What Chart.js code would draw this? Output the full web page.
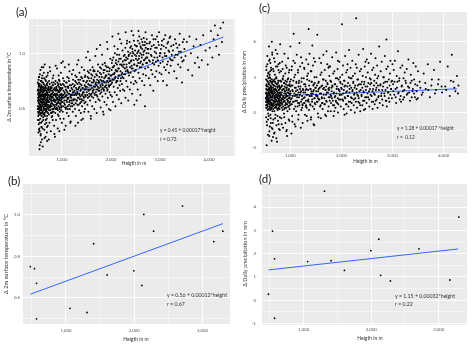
<!DOCTYPE html>
<html>
<head>
<meta charset="utf-8">
<script src="https://cdn.jsdelivr.net/npm/chart.js@4.4.1/dist/chart.umd.min.js"></script>
<style>
  html,body{margin:0;padding:0;background:#fff;overflow:hidden;}
  #wrap{position:relative;width:474px;height:345px;}
  canvas{position:absolute;}
</style>
</head>
<body>
<div id="wrap">
  <canvas id="pa" width="237" height="172" style="left:0;top:0"></canvas>
  <canvas id="pc" width="237" height="172" style="left:237px;top:0"></canvas>
  <canvas id="pb" width="237" height="173" style="left:0;top:172px"></canvas>
  <canvas id="pd" width="237" height="173" style="left:237px;top:172px"></canvas>
</div>
<script>
'use strict';

const FONT="Lato,'Open Sans',sans-serif";
const PANEL_BG='#EBEBEB', INK='#333', TICK_INK='#555', FIT='#3366FF';

// ── (a) all grid cells: height [m] vs Δ 2m temperature [°C] ─────────────────
const tempPoints=[
  [508,.62],[512,.71],[515,.55],[518,.78],[521,.66],[524,.49],[527,.74],[530,.69],[533,.58],[536,.83],[539,.64],[542,.72],[545,.44],[548,.61],[551,.76],[554,.68],[557,.53],[560,.88],[563,.7],[566,.63],[569,.36],[572,.75],[575,.59],[578,.67],[581,.8],[584,.47],[587,.73],[590,.65],[593,.57],[596,.79],[599,.7],
  [510,.68],[516,.6],[522,.81],[528,.52],[534,.71],[540,.31],[546,.66],[552,.59],[558,.73],[564,.41],[570,.69],[576,.77],[582,.62],[588,.9],[594,.51],[600,.67],
  [513,.74],[519,.57],[525,.64],[531,.77],[537,.46],[543,.61],[549,.85],[555,.63],[561,.56],[567,.72],[573,.5],[579,.7],[585,.6],[591,.38],[597,.74],
  [506,.79],[520,.65],[538,.58],[556,.7],[574,.65],[592,.82],[517,.43],[547,.34],[583,.55],
  [504,.6],[507,.73],[511,.66],[514,.58],[519,.7],[523,.76],[526,.61],[529,.67],[532,.72],[535,.56],[538,.69],[541,.63],[544,.78],[547,.71],[550,.6],[553,.66],[556,.74],[559,.62],[562,.68],[565,.57],[568,.75],[571,.65],[574,.7],[577,.61],[580,.73],[583,.67],[586,.59],[589,.76],[592,.64],[595,.69],
  [598,.62],[601,.71],[604,.58],[607,.66],[610,.74],[613,.63],[616,.69],[619,.56],[622,.72],[625,.65],[628,.78],[631,.6],[634,.73],[637,.67],[640,.62],[643,.7],[646,.57],[649,.75],[652,.64],[655,.68],[658,.71],[661,.6],[664,.76],[667,.66],[670,.63],[673,.7],[676,.59],[679,.73],[682,.67],[685,.62],
  [688,.72],[691,.65],[694,.58],[697,.77],[700,.68],[703,.61],[706,.74],[709,.66],[712,.7],[715,.63],[718,.75],[509,.52],[527,.83],[545,.5],[563,.8],[581,.47],[599,.84],[617,.54],[635,.82],[653,.49],[671,.8],[689,.53],[707,.79],[532,.45],[566,.42],[604,.46],[642,.39],[668,.52],[694,.47],[712,.86],
  [603,.64],[606,.72],[609,.57],[612,.79],[615,.67],[618,.52],[621,.75],[624,.61],[627,.7],[630,.86],[633,.59],[636,.68],[639,.45],[642,.73],[645,.63],[648,.77],[651,.55],[654,.69],[657,.62],[660,.81],[663,.66],[666,.4],[669,.71],[672,.58],[675,.75],[678,.64],[681,.5],[684,.7],[687,.6],[690,.78],[693,.67],[696,.55],[699,.72],[702,.63],[705,.84],[708,.69],[711,.48],[714,.74],[717,.6],[720,.66],
  [607,.33],[619,.9],[631,.65],[643,.56],[655,.74],[667,.62],[679,.83],[691,.43],[703,.71],[715,.57],[611,.76],[635,.7],[659,.6],[683,.65],[697,.37],[647,.92],
  [724,.65],[728,.73],[732,.56],[736,.8],[740,.68],[744,.5],[748,.74],[752,.62],[756,.7],[760,.87],[764,.59],[768,.67],[772,.44],[776,.76],[780,.64],[784,.71],[788,.54],[792,.79],[796,.66],[800,.6],[804,.73],[808,.69],[812,.52],[816,.77],[820,.63],[824,.84],[828,.58],[832,.7],[836,.66],[840,.48],[844,.74],[848,.61],
  [730,.38],[750,.9],[770,.62],[790,.57],[810,.82],[830,.74],[846,.42],[738,.61],[762,.75],[786,.68],[802,.55],
  [722,.7],[727,.62],[731,.76],[735,.65],[739,.59],[743,.72],[747,.67],[751,.78],[755,.61],[759,.69],[763,.74],[767,.63],[771,.7],[775,.57],[779,.73],[783,.66],[787,.62],[791,.75],[795,.69],[799,.64],[803,.71],[807,.58],[811,.77],[815,.68],[819,.72],[823,.6],[827,.66],[831,.79],[835,.63],[839,.7],
  [843,.67],[847,.75],[851,.62],[855,.71],[859,.65],[862,.78],[866,.6],[870,.73],[874,.66],[878,.7],[882,.63],[886,.76],[890,.68],[894,.61],[898,.74],[902,.67],[906,.79],[910,.64],[914,.7],[918,.59],[922,.73],[926,.66],[930,.62],[934,.76],[938,.69],[942,.64],[946,.72],[950,.8],[954,.6],[958,.75],
  [962,.68],[966,.73],[970,.63],[974,.7],[978,.66],[982,.77],[986,.61],[990,.74],[994,.69],[997,.65],
  [853,.66],[858,.74],[863,.57],[868,.8],[873,.69],[878,.52],[883,.75],[888,.63],[893,.71],[898,.89],[903,.6],[908,.68],[913,.46],[918,.77],[923,.65],[928,.72],[933,.55],[938,.81],[943,.67],[948,.61],[953,.74],[958,.7],[963,.53],[968,.78],[973,.64],[978,.86],[983,.59],[988,.71],[993,.67],[998,.5],
  [856,.4],[871,.91],[886,.6],[901,.73],[916,.56],[931,.84],[946,.44],[961,.66],[976,.75],[991,.62],[866,.7],[896,.64],[926,.78],[956,.58],[986,.93],
  [1004,.68],[1010,.75],[1016,.58],[1022,.82],[1028,.7],[1034,.53],[1040,.77],[1046,.64],[1052,.72],[1058,.9],[1064,.61],[1070,.69],[1076,.48],[1082,.79],[1088,.66],[1094,.73],[1100,.57],[1106,.83],[1112,.68],[1118,.62],[1124,.76],[1130,.71],[1136,.55],[1142,.8],[1148,.65],[1154,.87],[1160,.6],[1166,.73],[1172,.69],[1178,.51],[1184,.77],[1190,.64],[1196,.7],[1202,.85],[1208,.62],[1214,.74],[1220,.58],[1226,.81],[1232,.67],[1238,.72],[1244,.63],
  [1019,.94],[1049,.45],[1079,.6],[1109,.76],[1139,.92],[1169,.5],[1199,.66],[1229,.88],
  [1007,.7],[1013,.65],[1019,.78],[1025,.62],[1031,.73],[1037,.68],[1043,.8],[1049,.66],[1055,.71],[1061,.63],[1067,.76],[1073,.69],[1079,.74],[1085,.61],[1091,.7],[1097,.79],[1103,.65],[1109,.72],[1115,.67],[1121,.6],[1127,.75],[1133,.68],[1139,.82],[1145,.63],[1151,.71],[1157,.77],[1163,.66],[1169,.73],[1175,.62],[1181,.7],
  [1187,.68],[1193,.75],[1205,.7],[1211,.64],[1217,.78],[1223,.72],[1235,.66],[1241,.76],[1247,.7],
  [1254,.7],[1260,.77],[1266,.6],[1272,.84],[1278,.71],[1284,.55],[1290,.79],[1296,.66],[1302,.74],[1308,.92],[1314,.63],[1320,.71],[1326,.5],[1332,.81],[1338,.68],[1344,.75],[1350,.59],[1356,.86],[1362,.7],[1368,.64],[1374,.78],[1380,.73],[1386,.57],[1392,.83],[1398,.67],[1404,.9],[1410,.62],[1416,.75],[1422,.71],[1428,.53],[1434,.8],[1440,.66],[1446,.72],[1452,.88],[1458,.64],[1464,.77],[1470,.6],[1476,.84],[1482,.69],[1488,.74],[1494,.97],
  [1275,.48],[1335,.95],[1395,.52],[1455,.58],
  [1257,.73],[1263,.67],[1269,.8],[1281,.64],[1287,.75],[1293,.7],[1299,.83],[1305,.66],[1311,.72],[1317,.78],[1323,.68],[1329,.74],[1341,.63],[1347,.79],[1353,.71],[1359,.76],[1365,.67],[1371,.81],[1377,.69],[1383,.74],[1389,.65],[1401,.77],[1407,.7],[1413,.82],[1419,.66],[1425,.75],[1431,.72],[1437,.69],[1443,.8],[1449,.68],[1461,.74],[1467,.83],[1473,.7],[1479,.76],[1485,.65],[1491,.79],
  [1505,.72],[1512,.8],[1519,.63],[1526,.87],[1533,.74],[1540,.58],[1547,.82],[1554,.69],[1561,.77],[1568,.95],[1575,.66],[1582,.74],[1589,.55],[1596,.85],[1603,.71],[1610,.79],[1617,.62],[1624,.9],[1631,.73],[1638,.68],[1645,.81],[1652,.76],[1659,.6],[1666,.87],[1673,.7],[1680,.98],[1687,.65],[1694,.79],[1701,.74],[1708,.57],[1715,.84],[1722,.69],[1729,.76],[1736,.92],[1743,.67],[1750,.8],
  [1530,1.01],[1590,.53],[1650,.88],[1710,1.03],
  [1508,.76],[1515,.7],[1522,.83],[1529,.68],[1536,.78],[1543,.73],[1550,.86],[1557,.71],[1564,.8],[1571,.74],[1578,.88],[1585,.7],[1592,.77],[1599,.82],[1606,.69],[1613,.75],[1620,.84],[1627,.72],[1634,.79],[1641,.87],[1648,.74],[1655,.8],[1662,.71],[1669,.83],[1676,.76],
  [1683,.78],[1690,.72],[1697,.85],[1704,.77],[1711,.7],[1718,.81],[1725,.74],[1732,.87],[1739,.79],[1746,.73],
  [1755,.75],[1762,.83],[1769,.66],[1776,.9],[1783,.77],[1790,.61],[1797,.85],[1804,.72],[1811,.8],[1818,.99],[1825,.69],[1832,.77],[1839,.58],[1846,.88],[1853,.74],[1860,.82],[1867,.65],[1874,.93],[1881,.76],[1888,.71],[1895,.84],[1902,.79],[1909,.63],[1916,.9],[1923,.73],[1930,1.03],[1937,.68],[1944,.82],[1951,.77],[1958,.6],[1965,.87],[1972,.72],[1979,.8],[1986,.96],[1993,.7],[2000,.84],
  [1780,1.06],[1850,.56],[1920,1.08],[1990,.59],
  [1758,.79],[1765,.73],[1772,.86],[1779,.71],[1786,.81],[1793,.76],[1800,.89],[1807,.74],[1814,.83],[1821,.78],[1828,.92],[1835,.75],[1842,.8],[1849,.86],[1856,.73],[1863,.79],[1870,.88],[1877,.76],[1884,.83],[1891,.91],[1898,.77],[1905,.84],[1912,.75],[1919,.87],[1926,.8],[1933,.74],[1940,.9],[1947,.79],[1954,.85],[1961,.76],
  [1968,.82],[1975,.89],[1982,.77],[1989,.84],[1996,.8],
  [2006,.78],[2013,.88],[2020,.69],[2027,.95],[2034,.81],[2041,.65],[2048,.9],[2055,.76],[2062,.85],[2069,1.05],[2076,.72],[2083,.82],[2090,.62],[2097,.93],[2104,.79],[2111,.87],[2118,.7],[2125,.99],[2132,.8],[2139,.75],[2146,.89],[2153,.84],[2160,.67],[2167,.96],[2174,.77],[2181,1.1],[2188,.73],[2195,.87],[2202,.82],[2209,.64],[2216,.92],[2223,.78],[2230,.86],[2237,1.02],[2244,.74],
  [2030,1.12],[2150,1.14],[2210,1.07],
  [2009,.84],[2017,.93],[2025,.79],[2033,.9],[2041,.85],[2049,.97],[2057,.81],[2065,.91],[2073,.86],[2081,1.0],[2089,.83],[2097,.88],[2105,.95],[2113,.8],[2121,.92],[2129,.87],[2137,1.03],[2145,.82],[2153,.94],[2161,.89],[2169,.99],[2177,.84],[2185,.92],
  [2193,.8],[2201,.96],[2217,.85],[2225,.91],[2233,.83],[2241,.94],
  [2256,.82],[2264,.92],[2272,.73],[2280,.99],[2288,.85],[2296,.68],[2304,.95],[2312,.8],[2320,.9],[2328,1.09],[2336,.76],[2344,.87],[2352,.66],[2360,.98],[2368,.84],[2376,.93],[2384,.74],[2392,1.04],[2400,.86],[2408,.79],[2416,.95],[2424,.89],[2432,.71],[2440,1.01],[2448,.83],[2456,1.13],[2464,.78],[2472,.92],[2480,.87],[2488,1.06],[2496,.8],
  [2300,1.15],[2420,1.16],[2476,.63],
  [2253,.9],[2261,.98],[2269,.85],[2277,.95],[2285,.89],[2293,1.04],[2301,.87],[2309,.97],[2317,.92],[2325,1.07],[2333,.88],[2341,.96],[2349,1.01],[2357,.86],[2365,.99],[2373,.93],[2381,1.08],[2389,.9],[2397,1.0],[2405,.94],[2413,1.05],[2421,.91],[2429,.98],[2437,1.03],[2445,.89],[2453,1.0],[2461,.95],[2469,1.09],[2477,.92],[2485,.99],[2493,1.02],
  [2505,.88],[2513,.98],[2521,.79],[2529,1.05],[2537,.91],[2545,.74],[2553,1.01],[2561,.86],[2569,.96],[2577,1.12],[2585,.82],[2593,.93],[2601,.7],[2609,1.04],[2617,.9],[2625,.99],[2633,.8],[2641,1.08],[2649,.92],[2657,.85],[2665,1.01],[2673,.95],[2681,.77],[2689,1.06],[2697,.89],[2705,1.15],[2713,.84],[2721,.97],[2729,1.1],[2737,.93],[2745,1.03],
  [2524,.66],[2694,.62],[2560,1.16],
  [2509,.96],[2517,1.05],[2525,.91],[2533,1.0],[2541,.95],[2549,1.09],[2557,.93],[2565,1.02],[2573,.98],[2581,1.07],[2589,.9],[2597,1.0],[2605,1.05],[2613,.94],[2621,1.1],[2629,.97],[2637,1.03],[2645,.92],[2653,1.06],[2661,.99],[2669,1.11],[2677,.95],[2685,1.02],[2693,1.08],[2701,.96],[2709,1.04],[2717,.93],[2725,1.0],[2733,1.07],[2741,.97],
  [2756,.9],[2765,1.0],[2774,.82],[2783,1.07],[2792,.94],[2801,.77],[2810,1.03],[2819,.88],[2828,.98],[2837,1.13],[2846,.85],[2855,.95],[2864,.73],[2873,1.06],[2882,.92],[2891,1.01],[2900,.83],[2909,1.1],[2918,.94],[2927,.87],[2936,1.04],[2945,.97],[2954,.8],[2963,1.08],[2972,.91],[2981,1.15],[2990,.86],[2999,1.0],
  [2760,1.03],[2778,.95],[2796,1.08],[2814,.99],[2832,1.05],[2850,.93],[2868,1.1],[2886,.97],[2904,1.04],[2922,1.0],[2940,1.12],[2958,.95],[2976,1.06],[2994,.98],
  [3008,.93],[3019,1.03],[3030,.85],[3041,1.09],[3052,.97],[3063,.8],[3074,1.05],[3085,.9],[3096,1.0],[3107,1.13],[3118,.88],[3129,.98],[3140,.77],[3151,1.07],[3162,.94],[3173,1.02],[3184,.86],[3195,1.11],[3206,.96],[3217,.91],[3228,1.05],[3239,.99],
  [3013,1.0],[3035,1.06],[3057,.94],[3079,1.1],[3101,.98],[3123,1.04],[3145,.92],[3167,1.08],[3189,1.01],[3211,1.12],[3233,.95],[3265,1.02],[3297,.97],[3329,1.07],[3361,.99],[3393,1.06],[3425,1.01],[3457,.94],[3489,1.1],
  [3258,.95],[3274,1.06],[3290,.87],[3306,1.1],[3322,.99],[3338,.82],[3354,1.04],[3370,.92],[3386,1.01],[3402,1.14],[3418,.9],[3434,.97],[3450,.79],[3466,1.08],[3482,.95],[3498,1.03],
  [3520,.98],[3548,1.08],[3575,.88],[3602,1.12],[3630,1.0],[3658,.84],[3686,1.05],[3714,.93],[3742,1.1],[3770,.97],[3798,.9],[3826,1.06],[3854,.95],[3882,1.13],[3930,1.02],[3975,.92],
  [4015,1.04],[4040,1.16],[4070,.97],[4095,1.1],[4120,1.2],[4150,1.05],[4180,1.13],[4205,.99],[4235,1.18],[4265,1.08],[4290,1.22]
];

// ── (c) all grid cells: height [m] vs Δ daily precipitation [mm] ────────────
const precipPoints=[
  [522,1.6],[525,2.8],[528,.4],[531,3.9],[534,1.1],[537,-.8],[540,2.2],[543,1.4],[546,.7],[549,4.8],[552,1.9],[555,.2],[558,2.6],[561,-1.9],[564,1.2],[567,3.3],[570,.9],[573,1.7],[576,-.3],[579,2.4],[582,5.6],[585,1.0],[588,2.0],[591,.5],[594,3.0],[597,-1.2],[600,1.5],[603,2.7],[606,.8],[609,4.2],[612,1.3],[615,-.5],[618,2.1],[621,1.8],[624,.3],[627,3.6],[630,1.1],[633,-2.4],[636,2.5],[639,.6],[642,1.6],[645,5.1],[648,.1],
  [523,.9],[529,2.3],[535,-2.8],[541,1.5],[547,.6],[553,3.1],[559,1.0],[565,-.1],[571,2.0],[577,1.2],[583,4.4],[589,-1.6],[595,1.9],[601,.4],[607,2.9],[613,1.4],[619,-.9],[625,2.2],[631,.7],[637,6.0],[643,1.7],[649,-1.4],[533,1.3],[557,.9],[581,1.6],[605,3.5],[629,1.9],
  [520,1.2],[524,.6],[527,2.0],[530,1.7],[532,.9],[536,2.4],[539,1.3],[542,.4],[545,1.9],[548,2.7],[551,1.0],[554,1.6],[556,.5],[560,2.2],[562,1.4],[566,.8],[569,2.9],[572,1.1],[575,1.8],[578,.3],[580,2.5],[584,1.5],[587,.7],[590,2.1],[593,1.2],[596,3.2],[599,.9],[602,1.7],[604,.2],[608,2.3],[611,1.0],[614,1.9],[617,.6],[620,2.6],[623,1.3],[626,.4],[628,2.0],[632,1.6],[635,.8],[638,2.8],[641,1.1],[644,1.8],[647,.5],[650,2.4],
  [652,1.3],[655,.7],[658,2.1],[661,1.5],[664,.3],[667,1.9],[670,2.7],[673,1.0],[676,1.6],[679,.6],[682,2.3],[685,1.2],[688,.9],[691,2.0],[694,1.4],[697,.4],[699,2.6],[702,1.7],[705,1.1],[708,.7],[711,2.2],[714,1.5],[717,.5],[721,1.9],[724,1.0],[727,2.9],[730,1.3],[733,.6],[736,1.8],[739,2.4],[742,.9],[745,1.6],[748,.3],[751,2.1],[754,1.2],[757,.8],[760,2.5],[763,1.5],[766,.4],[769,1.9],[772,1.1],[775,2.7],[778,.7],[781,1.7],[784,2.2],[787,1.0],[789,.5],[792,2.0],[795,1.4],[798,.8],
  [526,-.4],[544,-1.1],[563,-.6],[586,-2.0],[610,-.2],[634,-1.3],[657,-.9],[681,-1.8],[703,-.5],[726,-2.2],[748,-.3],[771,-1.0],[794,-1.5],
  [530,3.6],[550,4.1],[573,3.4],[597,4.5],[621,3.8],[646,4.9],[672,3.5],[696,4.3],[718,3.9],[744,5.0],[768,3.6],[792,4.2],
  [653,1.4],[656,2.6],[659,.5],[662,3.7],[665,1.0],[668,-.6],[671,2.3],[674,1.6],[677,.8],[680,4.6],[683,1.8],[686,.1],[689,2.8],[692,-1.7],[695,1.2],[698,3.2],[701,.9],[704,2.0],[707,-.2],[710,2.5],[713,5.3],[716,1.1],[719,1.9],[722,.4],[725,3.0],[728,-1.1],[731,1.5],[734,2.4],[737,.7],[740,-2.5],[743,1.3],[746,3.9],[749,2.2],[752,.2],[755,1.7],[758,-.7],[761,2.7],[764,1.0],[767,4.1],[770,.6],[773,1.9],[776,-1.4],[779,2.3],[782,1.2],[785,3.4],[788,.3],[791,1.6],[794,-.4],[797,2.1],[800,5.8],
  [660,-2.1],[700,1.3],[720,2.9],[760,1.4],[790,.9],
  [804,1.5],[808,2.7],[812,.6],[816,3.5],[820,1.1],[824,-.5],[828,2.2],[832,1.7],[836,.8],[840,4.3],[844,1.9],[848,.2],[852,2.9],[856,-1.3],[860,1.3],[864,3.1],[868,.9],[872,2.0],[876,-.1],[880,2.5],[884,5.0],[888,1.2],[892,1.8],[896,.4],[900,3.3],[904,-.9],[908,1.6],[912,2.4],[916,.7],[920,-1.6],[924,1.4],[928,3.8],[932,2.1],[936,-2.0],[940,1.7],[944,.1],[948,2.8],[952,1.0],[956,4.6],[960,.5],[964,1.9],[968,-.6],[972,2.3],[976,1.2],[980,3.6],[984,.3],[988,1.5],[992,2.6],[996,.9],[1000,5.6],
  [802,1.3],[807,2.1],[811,.8],[815,1.7],[819,2.6],[823,1.0],[827,1.5],[831,.4],[835,2.3],[839,1.2],[843,.7],[847,1.9],[851,2.8],[855,1.1],[859,.5],[863,2.0],[867,1.4],[871,.9],[875,2.5],[879,1.6],[883,.3],[887,2.2],[891,1.0],[895,1.8],[899,.6],
  [903,2.7],[907,1.3],[911,.8],[915,2.1],[919,1.5],[923,.4],[927,1.9],[931,2.6],[935,1.1],[939,.7],[943,2.3],[947,1.4],[951,.9],[955,1.7],[959,2.9],[963,1.2],[967,.5],[971,2.0],[975,1.6],[979,.8],[983,2.4],[987,1.3],[991,.6],[995,1.8],[999,2.2],
  [830,-1.0],[880,-.4],[930,-1.5],[980,-.7],[850,3.7],[910,4.0],[970,3.4],
  [1005,1.6],[1011,2.8],[1017,.7],[1023,3.6],[1029,1.2],[1035,-.3],[1041,2.3],[1047,1.8],[1053,.9],[1059,4.4],[1065,6.7],[1071,.3],[1077,3.0],[1083,-1.0],[1089,1.4],[1095,3.2],[1101,1.0],[1107,2.1],[1113,.1],[1119,2.6],[1125,4.9],[1131,1.3],[1137,1.9],[1143,.5],[1149,3.4],[1155,-.6],[1161,1.7],[1167,2.5],[1173,.8],[1179,5.9],[1185,1.5],[1191,3.9],[1197,2.2],[1203,-1.3],[1209,1.8],[1215,.2],[1221,2.9],[1227,1.1],[1233,4.2],[1239,.6],[1245,2.0],[1020,-1.8],[1110,1.5],[1170,2.7],[1230,.4],
  [1008,1.1],[1018,2.3],[1028,.7],[1038,1.9],[1048,1.4],[1058,2.7],[1068,.9],[1078,1.6],[1088,2.1],[1098,.5],[1108,1.8],[1118,2.5],[1128,1.0],[1138,1.5],[1148,.8],[1158,2.2],[1168,1.3],[1178,.6],[1188,2.0],[1198,1.7],[1208,.9],[1218,2.6],[1228,1.4],[1238,.7],[1248,1.9],
  [1040,-.8],[1100,-1.2],[1160,-.2],[1240,-.9],[1030,3.9],[1090,4.2],[1150,3.6],[1210,4.7],
  [1256,1.7],[1262,2.9],[1268,.8],[1274,3.7],[1280,1.3],[1286,-.2],[1292,2.4],[1298,1.9],[1304,1.0],[1310,4.5],[1316,2.0],[1322,.4],[1328,3.1],[1334,-.7],[1340,1.5],[1346,3.3],[1352,1.1],[1358,7.1],[1364,.2],[1370,2.7],[1376,5.0],[1382,1.4],[1388,2.0],[1394,.6],[1400,3.5],[1406,-.4],[1412,1.8],[1418,2.6],[1424,.9],[1430,5.7],[1436,1.6],[1442,4.0],[1448,2.3],[1454,-1.0],[1460,1.9],[1466,.3],[1472,3.0],[1478,1.2],[1484,4.3],[1490,.7],[1496,2.1],[1300,.5],[1420,1.4],[1480,2.5],
  [1258,1.2],[1268,2.4],[1278,.8],[1288,1.7],[1298,2.2],[1308,.6],[1318,1.5],[1328,2.8],[1338,1.0],[1348,1.9],[1358,.9],[1368,2.3],[1378,1.4],[1388,.7],[1398,2.0],[1408,1.6],[1418,2.6],[1428,1.1],[1438,.5],[1448,1.8],[1458,2.4],[1468,1.2],[1478,.8],[1488,2.1],[1498,1.5],
  [1320,-.3],[1400,-.6],[1470,-1.1],[1270,3.8],[1350,4.1],[1410,3.5],[1460,4.6],
  [1505,1.8],[1512,3.0],[1519,.9],[1526,6.6],[1533,1.4],[1540,-.1],[1547,2.5],[1554,2.0],[1561,1.1],[1568,4.6],[1575,2.1],[1582,.5],[1589,3.2],[1596,-.5],[1603,1.6],[1610,3.4],[1617,1.2],[1624,2.3],[1631,.3],[1638,2.8],[1645,4.9],[1652,1.5],[1659,2.1],[1666,.7],[1673,3.6],[1680,-.2],[1687,1.9],[1694,2.7],[1701,1.0],[1708,5.2],[1715,1.7],[1722,4.1],[1729,2.4],[1736,.1],[1743,2.0],[1750,1.3],[1540,1.2],[1620,.8],[1700,2.2],[1745,3.8],
  [1508,1.4],[1520,2.3],[1532,.9],[1544,1.8],[1556,2.6],[1568,1.1],[1580,1.6],[1592,.6],[1604,2.2],[1616,1.3],[1628,.8],[1640,2.0],[1652,2.8],[1664,1.2],[1676,.7],[1688,1.9],[1700,1.5],[1712,.9],[1724,2.5],[1736,1.7],[1748,.5],
  [1756,1.9],[1763,3.1],[1770,1.0],[1777,3.9],[1784,1.5],[1791,.1],[1798,2.6],[1805,2.1],[1812,1.2],[1819,4.7],[1826,2.2],[1833,.6],[1840,3.3],[1847,-.3],[1854,1.7],[1861,3.5],[1868,1.3],[1875,2.4],[1882,.4],[1889,2.9],[1896,5.1],[1903,1.6],[1910,2.2],[1917,.8],[1924,3.7],[1931,.0],[1938,2.0],[1945,2.8],[1952,1.1],[1959,4.3],[1966,1.8],[1973,3.0],[1980,2.5],[1987,.5],[1994,2.1],[1800,1.4],[1890,1.0],[1970,1.5],
  [1760,2.1],[1772,1.3],[1784,2.7],[1796,.8],[1808,1.8],[1820,2.3],[1832,1.0],[1844,1.6],[1856,.6],[1868,2.4],[1880,1.4],[1892,.9],[1904,2.0],[1916,2.9],[1928,1.2],[1940,.7],[1952,1.9],[1964,1.5],[1976,2.6],[1988,1.1],
  [1550,-.4],[1700,-.3],[1860,.1],[1600,4.2],[1760,3.9],[1930,4.4],
  [2005,2.0],[2010,7.5],[2016,3.2],[2023,1.1],[2030,4.0],[2037,1.6],[2044,.3],[2051,2.7],[2058,2.2],[2065,1.3],[2072,4.8],[2079,2.3],[2086,.7],[2093,3.4],[2100,-.1],[2107,1.8],[2114,3.6],[2121,1.4],[2128,2.5],[2135,.5],[2142,3.0],[2149,5.3],[2156,1.7],[2163,2.3],[2170,.9],[2177,3.8],[2184,.2],[2191,2.1],[2198,2.9],[2205,1.2],[2212,4.4],[2219,1.9],[2226,3.1],[2233,2.6],[2240,.6],[2247,1.5],
  [2004,1.5],[2018,2.4],[2032,1.0],[2046,1.9],[2060,2.7],[2074,1.2],[2088,1.7],[2102,.7],[2116,2.2],[2130,1.4],[2144,.9],[2158,2.0],[2172,2.9],[2186,1.3],[2200,.8],[2214,1.8],[2228,2.5],[2242,1.1],
  [2256,2.1],[2264,3.3],[2272,1.2],[2280,4.1],[2288,8.0],[2296,1.7],[2304,.4],[2312,2.8],[2320,2.3],[2328,1.4],[2336,4.9],[2344,2.4],[2352,.8],[2360,3.5],[2368,.1],[2376,1.9],[2384,3.7],[2392,1.5],[2400,2.6],[2408,.6],[2416,3.1],[2424,5.4],[2432,1.8],[2440,2.4],[2448,1.0],[2456,3.9],[2464,.3],[2472,2.2],[2480,3.0],[2488,1.3],[2496,4.5],[2330,.9],
  [2254,1.6],[2268,2.3],[2282,.9],[2296,2.0],[2310,1.5],[2324,2.8],[2338,1.2],[2352,1.8],[2366,.6],[2380,2.4],[2394,1.4],[2408,2.1],[2422,1.0],[2436,1.7],[2450,2.6],[2464,1.3],[2478,1.9],[2492,.8],
  [2060,-.2],[2260,.0],[2440,.2],[2120,4.1],[2300,3.8],[2470,4.3],
  [2506,2.2],[2514,3.4],[2522,1.3],[2530,4.2],[2538,1.8],[2546,.5],[2554,2.9],[2562,2.4],[2570,1.5],[2578,5.0],[2586,2.5],[2594,.9],[2602,3.6],[2610,.3],[2618,2.0],[2626,3.8],[2634,1.6],[2642,2.7],[2650,.7],[2658,3.2],[2666,4.6],[2674,1.9],[2682,2.5],[2690,1.1],[2698,4.0],[2706,.4],[2714,2.3],[2722,3.1],[2730,1.4],[2738,5.6],
  [2510,1.6],[2526,2.5],[2542,1.1],[2558,2.0],[2574,2.8],[2590,1.4],[2606,1.8],[2622,.9],[2638,2.3],[2654,1.5],[2670,1.0],[2686,2.1],[2702,2.9],[2718,1.3],[2734,1.9],
  [2758,2.3],[2768,3.5],[2778,1.4],[2788,4.3],[2798,1.9],[2808,.6],[2818,3.0],[2828,2.5],[2838,1.6],[2848,4.8],[2858,2.6],[2868,1.0],[2878,3.7],[2888,.5],[2898,2.1],[2908,3.9],[2918,1.7],[2928,2.8],[2938,.9],[2948,3.3],[2958,4.4],[2968,2.0],[2978,2.6],[2988,1.2],[2998,4.1],[2880,6.2],
  [2750,.8],[2766,2.4],[2782,1.6],[2798,1.1],[2814,2.2],[2830,3.0],[2846,1.4],[2862,1.9],[2878,1.0],[2894,2.6],[2910,1.7],[2926,1.2],[2942,2.3],[2958,1.5],[2974,2.0],[2990,2.7],
  [3010,2.4],[3022,3.6],[3034,1.5],[3046,4.4],[3058,2.0],[3070,.8],[3082,3.1],[3094,2.6],[3106,5.2],[3118,1.7],[3130,2.7],[3142,1.1],[3154,3.8],[3166,.9],[3178,2.2],[3190,4.0],[3202,1.8],[3214,2.9],[3226,1.3],[3238,3.4],
  [3014,1.8],[3038,2.6],[3062,1.3],[3086,2.1],[3110,1.6],[3134,2.9],[3158,1.4],[3182,2.3],[3206,1.1],[3230,1.9],
  [3262,2.5],[3278,3.7],[3294,1.6],[3310,4.5],[3326,2.1],[3342,1.0],[3358,3.2],[3374,2.7],[3390,1.8],[3406,4.2],[3422,2.8],[3438,1.3],[3454,3.9],[3470,1.1],[3486,2.3],[3498,3.5],
  [3254,2.7],[3278,1.5],[3302,2.2],[3326,1.7],[3350,2.5],[3374,1.3],[3398,2.0],[3422,1.6],[3446,2.4],[3470,1.8],[3494,1.2],
  [3530,2.6],[3570,1.5],[3610,3.3],[3650,2.0],[3690,4.1],[3730,1.3],[3770,2.8],[3810,3.6],[3850,1.9],[3890,2.4],[3930,4.3],[3970,1.7],
  [3545,2.1],[3590,1.7],[3640,2.5],[3700,1.9],[3760,2.3],[3830,1.6],[3900,2.8],[3960,2.2],
  [4030,2.2],[4080,3.9],[4120,1.4],[4160,4.9],[4190,2.6],[4230,1.8],[4260,3.1],[4290,2.3],
  [4050,1.9],[4140,2.7],[4210,2.1],[4280,1.6]
];

// ── (b)/(d) station values ───────────────────────────────────────────────────
const stationHeights=[478,538,568,568,1058,1308,1405,1603,1994,2112,2140,2284,2707,3165,3298];
const stationTemp   =[.75,.74,.67,.50,.55,.53,.86,.71,.73,.66,1.0,.92,1.04,.87,.92];
const stationPrecip =[.26,2.97,1.78,-.77,1.66,4.68,1.70,1.28,2.13,2.62,1.07,.83,2.21,.87,3.57];

// regression lines: [start height, end height] and the values there
const fitHeightsA=[503,4293],  fitTempA=[.617,1.116];
const fitHeightsB=[480,3298],  fitTempB=[.618,.956];      // 0.56 + 0.00012*h
const fitHeightsC=[524,4262],  fitPrecipC=[1.369,2.005];  // 1.28 + 0.00017*h
const fitHeightsD=[481,3286],  fitPrecipD=[1.304,2.202];  // 1.15 + 0.00032*h

// axis ticks (labelled) and extra grid lines
const xTicks4=[1000,2000,3000,4000], xMinor4=[500,1500,2500,3500,4500];
const xTicks3=[1000,2000,3000],      xMinor3=[500,1500,2500];
const yTicksA=[.6,1.0],              yMinorA=[.4,.8,1.2];
const yTicksB=[.6,.8,1.0],           yMinorB=[.5,.7,.9,1.1];
const yTicksC=[-3,0,3,6],            yMinorC=[-1.5,1.5,4.5,7.5];
const yTicksD=[-1,0,1,2,3,4],        yMinorD=[-.5,.5,1.5,2.5,3.5,4.5];

const pairs=(xs,ys)=>xs.map((x,i)=>[x,ys[i]]);
const thousands=v=>v.toLocaleString('en-US');
const oneDec=v=>v.toFixed(1);
const plain=v=>String(v);

// grey ggplot-style panel behind the grid
const plotBg={
  id:'plotBg',
  beforeDraw(chart){
    const {ctx,chartArea:a}=chart;
    ctx.save(); ctx.fillStyle=PANEL_BG;
    ctx.fillRect(a.left,a.top,a.right-a.left,a.bottom-a.top);
    ctx.restore();
  }
};

// free-standing labels: panel letter, axis titles, equation
const panelText={
  id:'panelText',
  afterDraw(chart,args,opts){
    const ctx=chart.ctx;
    (opts.items||[]).forEach(t=>{
      ctx.save();
      ctx.font=`${t.size}px ${FONT}`;
      ctx.fillStyle=t.color||INK;
      ctx.textAlign=t.align||'left';
      ctx.textBaseline='middle';
      ctx.translate(t.x,t.y);
      if(t.rotate)ctx.rotate(-Math.PI/2);
      ctx.fillText(t.text,0,0);
      ctx.restore();
    });
  }
};

function axis(o){
  const grid=[...o.ticks,...o.minor].sort((a,b)=>a-b);
  return {
    type:'linear',min:o.min,max:o.max,
    afterBuildTicks:s=>{s.ticks=grid.map(v=>({value:v}));},
    afterFit:s=>{if(s.isHorizontal())s.height=o.size;else s.width=o.size;},
    grid:{color:'#fff',drawTicks:false,lineWidth:c=>o.ticks.includes(c.tick&&c.tick.value)?0.9:0.45},
    border:{display:false},
    ticks:{autoSkip:false,maxRotation:0,minRotation:0,padding:o.pad,color:TICK_INK,
      font:{family:FONT,size:4.3},callback:v=>o.ticks.includes(v)?o.fmt(v):''}
  };
}

function panel(id,o){
  return new Chart(document.getElementById(id),{
    type:'scatter',
    data:{datasets:[
      {data:o.points,pointRadius:o.r,pointBackgroundColor:'#000',pointBorderWidth:0,pointHoverRadius:o.r},
      {data:o.fit,showLine:true,borderColor:FIT,borderWidth:1,pointRadius:0,fill:false}
    ]},
    options:{
      animation:false,responsive:false,events:[],
      layout:{padding:o.pad},
      plugins:{legend:{display:false},tooltip:{enabled:false},panelText:{items:o.text}},
      scales:{x:axis(o.x),y:axis(o.y)}
    },
    plugins:[plotBg,panelText]
  });
}

const letter=(t,x,y)=>({text:t,x,y,size:11.5,color:'#222'});

// ── (a) ──
panel('pa',{
  points:tempPoints,r:1,fit:pairs(fitHeightsA,fitTempA),
  pad:{left:0,top:19,right:2,bottom:0},
  x:{min:327,max:4531,ticks:xTicks4,minor:xMinor4,size:16,pad:1,fmt:thousands},
  y:{min:.262,max:1.246,ticks:yTicksA,minor:yMinorA,size:29,pad:4,fmt:oneDec},
  text:[
    letter('(a)',16,12),
    {text:'Δ 2m surface temperature in °C',x:9,y:87,size:5,rotate:true,align:'center'},
    {text:'Heigth in m',x:134,y:163,size:4.8,align:'center'},
    {text:'y = 0.45 + 0.00017*height',x:160,y:130,size:4.8},
    {text:'r = 0.73',x:160,y:139,size:4.8}
  ]
});

// ── (c) ──
panel('pc',{
  points:precipPoints,r:1,fit:pairs(fitHeightsC,fitPrecipC),
  pad:{left:0,top:12,right:7,bottom:0},
  x:{min:445,max:4457,ticks:xTicks4,minor:xMinor4,size:19,pad:0.5,fmt:thousands},
  y:{min:-3.45,max:8.54,ticks:yTicksC,minor:yMinorC,size:25,pad:6,fmt:plain},
  text:[
    letter('(c)',22,8),
    {text:'Δ Daily precipitation in mm',x:7,y:82,size:5.2,rotate:true,align:'center'},
    {text:'Heigth in m',x:128.5,y:161,size:4.8,align:'center'},
    {text:'y = 1.28 + 0.00017 *height',x:160,y:128,size:4.8},
    {text:'r =  0.12',x:160,y:137,size:4.8}
  ]
});

// ── (b) ──
panel('pb',{
  points:pairs(stationHeights,stationTemp),r:0.9,fit:pairs(fitHeightsB,fitTempB),
  pad:{left:0,top:12,right:7,bottom:0},
  x:{min:370,max:3403,ticks:xTicks3,minor:xMinor3,size:21,pad:4,fmt:thousands},
  y:{min:.475,max:1.146,ticks:yTicksB,minor:yMinorB,size:23,pad:3,fmt:oneDec},
  text:[
    letter('(b)',8,9),
    {text:'Δ 2m surface temperature in °C',x:6,y:82,size:5.8,rotate:true,align:'center'},
    {text:'Heigth in m',x:136,y:167,size:5,align:'center'},
    {text:'y = 0.56 + 0.00012*height',x:167,y:123,size:5.2},
    {text:'r = 0.67',x:167,y:132,size:5.2}
  ]
});

// ── (d) ──
panel('pd',{
  points:pairs(stationHeights,stationPrecip),r:0.9,fit:pairs(fitHeightsD,fitPrecipD),
  pad:{left:0,top:12,right:7,bottom:0},
  x:{min:382,max:3419,ticks:xTicks3,minor:xMinor3,size:20,pad:2,fmt:thousands},
  y:{min:-1.06,max:4.99,ticks:yTicksD,minor:yMinorD,size:25,pad:6,fmt:plain},
  text:[
    letter('(d)',22,7),
    {text:'Δ Daily precipitation in mm',x:8,y:82,size:5.5,rotate:true,align:'center'},
    {text:'Heigth in m',x:133,y:166,size:5,align:'center'},
    {text:'y = 1.15 + 0.00032*height',x:158,y:124,size:5.2},
    {text:'r = 0.22',x:158,y:132,size:5.2}
  ]
});
</script>
</body>
</html>
